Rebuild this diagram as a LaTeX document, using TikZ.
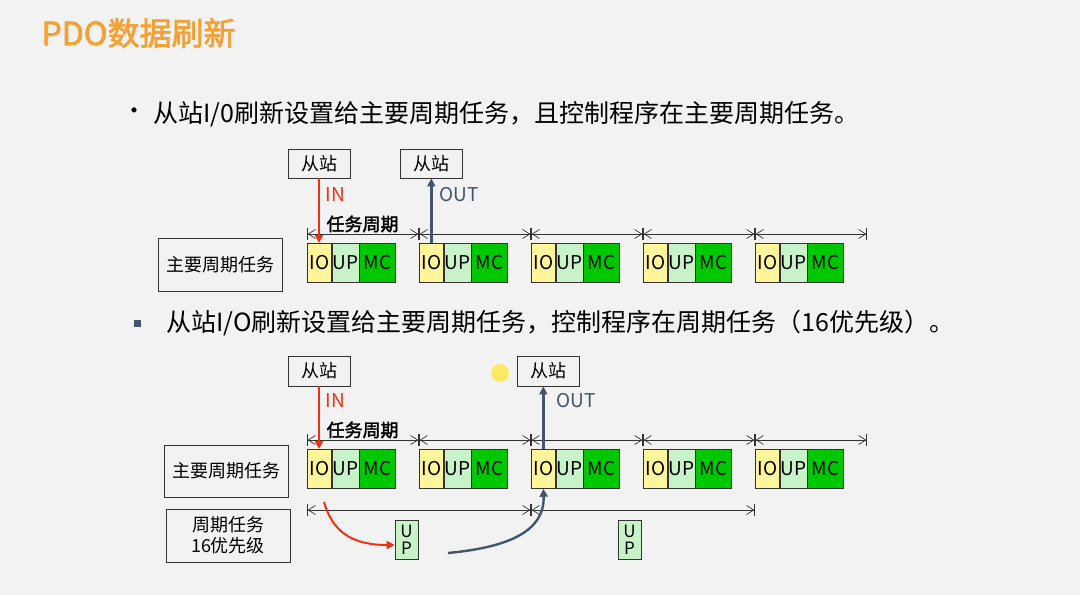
\documentclass[tikz,border=0pt]{standalone}
\usepackage{fontspec}
\setmainfont{Noto Sans CJK SC}
\newfontfamily\cjkb{Noto Sans CJK SC}[FakeBold=2]
\usetikzlibrary{arrows.meta}
\definecolor{bg}{HTML}{F2F2F2}
\definecolor{ttl}{HTML}{F5A030}
\definecolor{ioc}{HTML}{FFF59A}
\definecolor{upc}{HTML}{C8F2C8}
\definecolor{mcc}{HTML}{00C800}
\definecolor{outc}{HTML}{44546A}
\definecolor{inc}{HTML}{F03010}
\tikzset{
 lbl/.style={draw=black!80,line width=0.8pt,inner sep=0pt,font=\fontsize{18}{21}\selectfont},
 seg/.style={draw=black!80,line width=0.7pt,inner sep=0pt,minimum height=39pt,font=\fontsize{19}{20}\selectfont},
 dim/.style={draw=black!80,line width=0.7pt,{Bar[width=12pt]Straight Barb[length=7pt,width=9pt]}-{Straight Barb[length=7pt,width=9pt]Bar[width=12pt]}},
 inarr/.style={draw=inc,line width=2.4pt,-{Triangle[length=8pt,width=8pt]}},
 outarr/.style={draw=outc,line width=2.4pt,-{Triangle[length=8pt,width=8pt]}},
}
\newcommand{\blk}[3]{%
 \node[seg,fill=ioc,minimum width=24pt,anchor=north west] (#3io) at (#1,#2) {IO};
 \node[seg,fill=upc,minimum width=27pt,anchor=north west] (#3up) at (#3io.north east) {UP};
 \node[seg,fill=mcc,minimum width=36pt,anchor=north west] (#3mc) at (#3up.north east) {MC};}
\begin{document}
\begin{tikzpicture}[x=1pt,y=-1pt]
\fill[bg] (0,0) rectangle (1080,595);
\useasboundingbox (0,0) rectangle (1080,595);
\node[anchor=west,text=ttl,font=\cjkb\fontsize{32}{34}\selectfont] (title) at (38,33) {PDO数据刷新};
\node[font=\fontsize{24}{26}\selectfont] (b1) at (134,114) {•};
\node[anchor=west,font=\fontsize{25}{27}\selectfont] (t1) at (150,114) {从站I/0刷新设置给主要周期任务，且控制程序在主要周期任务。};
\node[fill=outc,minimum size=7pt,inner sep=0pt] (b2) at (137,323) {};
\node[anchor=west,font=\fontsize{25}{27}\selectfont] (t2) at (163,323) {从站I/O刷新设置给主要周期任务，控制程序在周期任务（16优先级）。};
% row 1
\node[lbl,minimum width=124pt,minimum height=53pt] (m1) at (220,264.5) {主要周期任务};
\node[lbl,minimum width=62pt,minimum height=29pt] (s1) at (319,163.5) {从站};
\node[lbl,minimum width=62pt,minimum height=29pt] (s2) at (431,163.5) {从站};
\foreach \i/\x in {a/307,b/419,c/531,d/643,e/755}{\blk{\x}{243}{r1\i}}
\foreach \x in {307,419,531,643,755}{\draw[dim] (\x,234) -- ++(112,0);}
\node[font=\cjkb\fontsize{18}{20}\selectfont,anchor=west] (tp1) at (323,224) {任务周期};
\draw[inarr] (s1.south) -- (s1.south |- r1aio.north);
\node[text=inc,anchor=west,font=\fontsize{19}{20}\selectfont] (in1) at (322,195) {IN};
\draw[outarr] (r1bio.north) -- (r1bio.north |- s2.south);
\node[text=outc,anchor=west,font=\fontsize{19}{20}\selectfont] (out1) at (436,195) {OUT};
% row 2
\node[lbl,minimum width=124pt,minimum height=52pt] (m2) at (226,471) {主要周期任务};
\node[lbl,minimum width=124pt,minimum height=53pt,align=center] (p2) at (228,535.5) {周期任务\\16优先级};
\node[lbl,minimum width=62pt,minimum height=30pt] (s3) at (319,371) {从站};
\node[lbl,minimum width=62pt,minimum height=30pt] (s4) at (548,371) {从站};
\fill[yellow!80!orange!60] (500,373) circle (9);
\foreach \i/\x in {a/307,b/419,c/531,d/643,e/755}{\blk{\x}{449}{r2\i}}
\foreach \x in {307,419,531,643,755}{\draw[dim] (\x,440) -- ++(112,0);}
\foreach \x in {307,531}{\draw[dim] (\x,510) -- ++(224,0);}
\node[font=\cjkb\fontsize{18}{20}\selectfont,anchor=west] (tp2) at (323,430) {任务周期};
\draw[inarr] (s3.south) -- (s3.south |- r2aio.north);
\node[text=inc,anchor=west,font=\fontsize{19}{20}\selectfont] (in2) at (322,401) {IN};
\draw[outarr] (r2cio.north) -- (r2cio.north |- s4.south);
\node[text=outc,anchor=west,font=\fontsize{19}{20}\selectfont] (out2) at (553,401) {OUT};
\node[draw=black!80,fill=upc,line width=0.7pt,minimum width=23pt,minimum height=39pt,inner sep=0pt,align=center,font=\fontsize{17}{17}\selectfont] (u1) at (406.5,539.5) {U\\P};
\node[draw=black!80,fill=upc,line width=0.7pt,minimum width=23pt,minimum height=39pt,inner sep=0pt,align=center,font=\fontsize{17}{17}\selectfont] (u2) at (629.5,539.5) {U\\P};
\coordinate (rs) at (324,502);
\coordinate (bs) at (448,553);
\draw[draw=inc,line width=2pt,-{Triangle[length=8pt,width=8pt]}] (rs) .. controls (332,530) and (350,545) .. (u1.west |- 0,545);
\draw[outarr] (bs) .. controls (500,548) and (545,535) .. (r2cio.south);
\end{tikzpicture}
\end{document}
